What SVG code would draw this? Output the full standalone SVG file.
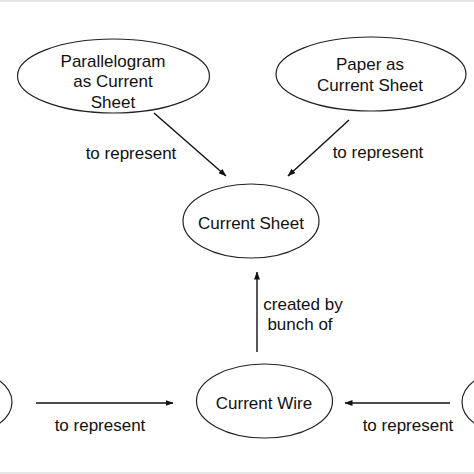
<svg xmlns="http://www.w3.org/2000/svg" width="474" height="474" viewBox="0 0 474 474">
<style>
.n{fill:#fff;stroke:#222;stroke-width:1.2}
.t{font-family:"Liberation Sans",Arial,sans-serif;font-size:17px;fill:#111;text-anchor:middle}
.c{stroke:#111;stroke-width:1.4;fill:none;marker-end:url(#ah)}
</style>
<defs>
<marker id="ah" markerWidth="8" markerHeight="6" refX="7.5" refY="3" orient="auto" markerUnits="userSpaceOnUse">
<path d="M0,0 L8,3 L0,6 Z" fill="#111"/>
</marker>
</defs>
<rect width="474" height="474" fill="#fff"/>
<rect x="0" y="0" width="474" height="2" fill="#e6e6e6"/>
<rect x="0" y="472" width="474" height="2" fill="#e6e6e6"/>
<g id="connectors">
<line class="c" x1="154" y1="113" x2="226" y2="176"/>
<line class="c" x1="349" y1="120" x2="288" y2="176"/>
<line class="c" x1="257" y1="352" x2="257" y2="272"/>
<line class="c" x1="36" y1="403" x2="173" y2="403"/>
<line class="c" x1="450" y1="403" x2="345" y2="403"/>
<text class="t" x="131" y="159">to represent</text>
<text class="t" x="378" y="158">to represent</text>
<text class="t" x="303" y="310">created by</text>
<text class="t" x="300" y="330">bunch of</text>
<text class="t" x="100" y="431">to represent</text>
<text class="t" x="408" y="431">to represent</text>
</g>
<g id="parallelogram">
<ellipse class="n" cx="113.5" cy="76" rx="96" ry="37"/>
<text class="t" x="113" y="67">Parallelogram</text>
<text class="t" x="113" y="87">as Current</text>
<text class="t" x="113" y="108">Sheet</text>
</g>
<g id="paper">
<ellipse class="n" cx="371" cy="74" rx="95" ry="37"/>
<text class="t" x="370" y="70">Paper as</text>
<text class="t" x="370" y="91">Current Sheet</text>
</g>
<g id="current-sheet">
<ellipse class="n" cx="251" cy="221" rx="68" ry="37"/>
<text class="t" x="251" y="229">Current Sheet</text>
</g>
<g id="current-wire">
<ellipse class="n" cx="264.5" cy="401" rx="68" ry="37"/>
<text class="t" x="264" y="409">Current Wire</text>
</g>
<g id="left-node">
<ellipse class="n" cx="-56" cy="402" rx="68" ry="37"/>
</g>
<g id="right-node">
<ellipse class="n" cx="530" cy="402" rx="68" ry="37"/>
</g>
</svg>
